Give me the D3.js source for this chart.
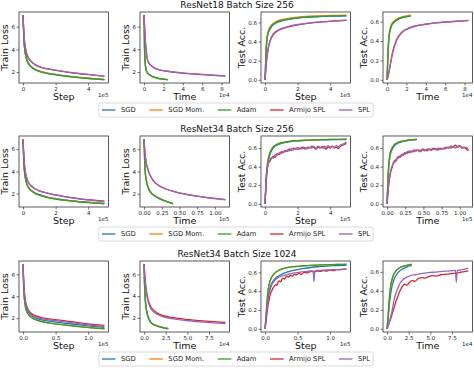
<!DOCTYPE html>
<html>
<head>
<meta charset="utf-8">
<script src="https://cdn.jsdelivr.net/npm/d3@7"></script>
<style>
  body { margin: 0; background: #fff; }
  svg { display: block; font-family: "DejaVu Sans", sans-serif; }
</style>
</head>
<body>
<svg id="chart" width="474" height="368"></svg>
<script>
// ---- labels ----
const methods = ["SGD", "SGD Mom.", "Adam", "Armijo SPL", "SPL"];
const colors = ["#1f77b4", "#ff7f0e", "#2ca02c", "#d62728", "#9467bd"];
const rowTitles = ["ResNet18 Batch Size 256", "ResNet34 Batch Size 256", "ResNet34 Batch Size 1024"];

// ---- tick values ----
const stepTicksA = [0, 2, 4];            // x1e5
const timeTicksA = [0, 2, 4, 6, 8];      // x1e4
const timeTicksB = [0, 0.25, 0.5, 0.75, 1.0]; // x1e5
const stepTicksC = [0, 0.5, 1.0];        // x1e5
const timeTicksC = [0, 2.5, 5.0, 7.5];   // x1e4
const lossTicks = [2, 4, 6];
const accTicks = [0, 0.2, 0.4, 0.6];

// ---- x grids ----
const stepsA = [0, 0.05, 0.1, 0.2, 0.3, 0.5, 0.75, 1, 1.5, 2, 2.5, 3, 3.5, 4, 4.5, 5]; // x1e5
const r1TimeFast = [0, 0.05, 0.1, 0.2, 0.35, 0.5, 0.75, 1.0, 1.4, 1.9, 2.45]; // x1e4
const r1TimeSlow = [0, 0.1, 0.2, 0.35, 0.6, 1.0, 1.5, 2.4, 3.5, 4.5, 6.0, 7.2, 8.4];
const r2StepDense = [0, 0.05, 0.1, 0.15, 0.2, 0.3, 0.4, 0.5, 0.625, 0.75, 0.875, 1.0,
  1.125, 1.25, 1.375, 1.5, 1.625, 1.75, 1.875, 2.0, 2.125, 2.25, 2.375, 2.5, 2.625, 2.75, 2.875, 3.0,
  3.125, 3.25, 3.375, 3.5, 3.625, 3.75, 3.875, 4.0, 4.125, 4.25, 4.375, 4.5, 4.625, 4.75, 4.875, 5.0];
const r2TimeFast = [0, 0.01, 0.02, 0.04, 0.07, 0.1, 0.14, 0.2, 0.27, 0.34, 0.41]; // x1e5
const r2TimeSlow = [0, 0.01, 0.025, 0.05, 0.08, 0.13, 0.2, 0.3, 0.45, 0.6, 0.75, 0.9, 1.03, 1.15];
const r2TimeDense = [0, 0.01, 0.02, 0.03, 0.04, 0.05, 0.065, 0.08, 0.095, 0.11, 0.125, 0.14,
  0.16, 0.18, 0.2, 0.22, 0.24, 0.26, 0.28, 0.3, 0.325, 0.35, 0.375, 0.4,
  0.43, 0.46, 0.49, 0.52, 0.55, 0.58, 0.61, 0.64, 0.67, 0.7, 0.73, 0.76, 0.79, 0.82,
  0.85, 0.88, 0.91, 0.94, 0.97, 1.0, 1.03, 1.06, 1.09, 1.12];
const stepsC = [0, 0.01, 0.02, 0.04, 0.06, 0.1, 0.15, 0.2, 0.3, 0.4, 0.5, 0.6, 0.7, 0.8, 0.9, 1.0, 1.1, 1.25]; // x1e5
const r3StepArmijo = [0, 0.01, 0.02, 0.03, 0.04, 0.05, 0.06, 0.07, 0.08, 0.09, 0.1,
  0.12, 0.14, 0.16, 0.18, 0.2, 0.22, 0.24, 0.26, 0.28, 0.3, 0.33, 0.36, 0.39, 0.42, 0.45, 0.48,
  0.52, 0.56, 0.6, 0.65, 0.7, 0.75, 0.8, 0.85, 0.9, 0.95, 1.0, 1.05, 1.1, 1.15, 1.2, 1.25];
const r3StepSpl = [0, 0.01, 0.02, 0.04, 0.06, 0.08, 0.1, 0.13, 0.16, 0.2, 0.25, 0.3, 0.35, 0.4,
  0.45, 0.5, 0.55, 0.6, 0.65, 0.7, 0.74, 0.75, 0.76, 0.77, 0.8, 0.85, 0.9, 0.95, 1.0, 1.05,
  1.1, 1.15, 1.2, 1.25];
const r3TimeFast = [0, 0.05, 0.1, 0.2, 0.3, 0.45, 0.7, 1.0, 1.3, 1.7, 2.2, 2.8]; // x1e4
const r3TimeSlow = [0, 0.1, 0.25, 0.5, 0.8, 1.25, 1.9, 2.8, 3.8, 4.8, 6.0, 7.2, 8.4, 9.4];
const r3TimeFastAcc = [0, 0.1, 0.2, 0.3, 0.45, 0.6, 0.8, 1.05, 1.35, 1.7, 2.1, 2.5, 2.85];
const r3TimeSpl = [0, 0.2, 0.4, 0.6, 0.8, 1.0, 1.25, 1.5, 1.8, 2.2, 2.7, 3.2, 3.8, 4.4, 5.0,
  5.6, 6.2, 6.8, 7.4, 7.9, 8.0, 8.1, 8.5, 9.0, 9.4];
const r3TimeArmijo = [0, 0.2, 0.4, 0.6, 0.8, 1.0, 1.2, 1.4, 1.6, 1.8, 2.0, 2.3, 2.6, 2.9, 3.2,
  3.6, 4.0, 4.4, 4.8, 5.2, 5.7, 6.2, 6.7, 7.2, 7.7, 8.2, 8.7, 9.1, 9.4];

// ---- ResNet18 bs 256 ----
const r1LossStep = [
  [7.0, 5.0, 4.1, 3.28, 2.88, 2.5, 2.25, 2.1, 1.92, 1.8, 1.7, 1.61, 1.54, 1.47, 1.41, 1.36],
  [7.0, 4.95, 4.05, 3.24, 2.85, 2.48, 2.23, 2.08, 1.9, 1.78, 1.68, 1.59, 1.52, 1.46, 1.4, 1.35],
  [7.0, 4.9, 4.0, 3.2, 2.82, 2.45, 2.2, 2.05, 1.88, 1.76, 1.66, 1.57, 1.5, 1.44, 1.38, 1.33],
  [7.0, 5.35, 4.55, 3.72, 3.32, 2.93, 2.64, 2.46, 2.28, 2.15, 2.04, 1.94, 1.86, 1.78, 1.71, 1.64],
  [7.0, 5.4, 4.6, 3.75, 3.35, 2.95, 2.66, 2.48, 2.3, 2.17, 2.06, 1.96, 1.88, 1.8, 1.72, 1.65]
];
const r1LossTime = [
  [7.0, 4.0, 3.05, 2.26, 1.96, 1.81, 1.66, 1.57, 1.47, 1.39, 1.34],
  [7.0, 3.95, 3.0, 2.23, 1.94, 1.8, 1.65, 1.56, 1.46, 1.38, 1.33],
  [7.0, 3.9, 2.95, 2.2, 1.92, 1.78, 1.64, 1.55, 1.45, 1.37, 1.32],
  [7.0, 5.15, 4.05, 3.07, 2.68, 2.39, 2.21, 2.07, 1.95, 1.87, 1.78, 1.71, 1.66],
  [7.0, 5.2, 4.1, 3.1, 2.7, 2.4, 2.22, 2.08, 1.96, 1.88, 1.79, 1.72, 1.67]
];
const r1AccStep = [
  [0, 0.24, 0.39, 0.49, 0.53, 0.575, 0.6, 0.614, 0.632, 0.644, 0.652, 0.657, 0.662, 0.665, 0.667, 0.669],
  [0, 0.26, 0.41, 0.51, 0.55, 0.59, 0.615, 0.628, 0.645, 0.655, 0.662, 0.667, 0.67, 0.672, 0.674, 0.675],
  [0, 0.25, 0.4, 0.5, 0.54, 0.58, 0.605, 0.618, 0.635, 0.647, 0.655, 0.66, 0.664, 0.667, 0.669, 0.671],
  [0, 0.11, 0.21, 0.33, 0.4, 0.47, 0.51, 0.53, 0.557, 0.575, 0.588, 0.598, 0.605, 0.611, 0.617, 0.622],
  [0, 0.12, 0.22, 0.34, 0.41, 0.48, 0.515, 0.535, 0.56, 0.578, 0.59, 0.6, 0.607, 0.613, 0.619, 0.624]
];
const r1AccTime = [
  [0, 0.14, 0.27, 0.44, 0.52, 0.565, 0.595, 0.615, 0.635, 0.648, 0.658],
  [0, 0.16, 0.29, 0.46, 0.54, 0.58, 0.61, 0.628, 0.645, 0.657, 0.666],
  [0, 0.15, 0.28, 0.45, 0.53, 0.57, 0.6, 0.62, 0.638, 0.65, 0.66],
  [0, 0.035, 0.085, 0.16, 0.29, 0.41, 0.485, 0.535, 0.565, 0.58, 0.595, 0.604, 0.61],
  [0, 0.04, 0.09, 0.17, 0.3, 0.42, 0.49, 0.54, 0.567, 0.582, 0.597, 0.605, 0.612]
];

// ---- ResNet34 bs 256 ----
const r2LossStep = [
  [6.9, 4.8, 3.9, 3.05, 2.66, 2.3, 2.05, 1.9, 1.69, 1.55, 1.44, 1.35, 1.28, 1.22, 1.17, 1.12],
  [6.9, 4.75, 3.85, 3.01, 2.63, 2.27, 2.02, 1.87, 1.66, 1.52, 1.42, 1.33, 1.26, 1.2, 1.15, 1.1],
  [6.9, 4.7, 3.8, 2.98, 2.6, 2.25, 2.0, 1.85, 1.64, 1.5, 1.4, 1.31, 1.24, 1.18, 1.13, 1.08],
  [6.9, 5.25, 4.4, 3.52, 3.08, 2.68, 2.41, 2.24, 2.03, 1.88, 1.75, 1.63, 1.53, 1.45, 1.38, 1.32],
  [6.9, 5.3, 4.45, 3.55, 3.1, 2.7, 2.42, 2.25, 2.03, 1.87, 1.73, 1.61, 1.51, 1.42, 1.35, 1.29]
];
const r2LossTime = [
  [6.9, 4.68, 3.78, 2.97, 2.4, 2.1, 1.89, 1.65, 1.44, 1.28, 1.14],
  [6.9, 4.64, 3.74, 2.93, 2.37, 2.07, 1.86, 1.62, 1.42, 1.26, 1.12],
  [6.9, 4.6, 3.7, 2.9, 2.35, 2.05, 1.84, 1.6, 1.4, 1.24, 1.1],
  [6.9, 5.85, 4.95, 4.25, 3.72, 3.18, 2.77, 2.45, 2.15, 1.95, 1.79, 1.66, 1.56, 1.48],
  [6.9, 5.9, 5.0, 4.3, 3.75, 3.2, 2.78, 2.45, 2.15, 1.95, 1.78, 1.64, 1.54, 1.46]
];
const r2AccStep = [
  [0, 0.2, 0.33, 0.46, 0.53, 0.6, 0.633, 0.65, 0.668, 0.677, 0.682, 0.686, 0.688, 0.69, 0.691, 0.692],
  [0, 0.23, 0.36, 0.49, 0.555, 0.612, 0.642, 0.657, 0.673, 0.681, 0.686, 0.689, 0.691, 0.693, 0.694, 0.695],
  [0, 0.22, 0.35, 0.48, 0.55, 0.61, 0.64, 0.655, 0.672, 0.68, 0.685, 0.688, 0.69, 0.692, 0.693, 0.694],
  [0, 0.18, 0.31, 0.39, 0.43, 0.46, 0.49, 0.51, 0.5, 0.54, 0.53, 0.56,
   0.55, 0.575, 0.565, 0.59, 0.575, 0.6, 0.59, 0.605, 0.59, 0.61, 0.6, 0.59, 0.61, 0.6, 0.62, 0.605,
   0.59, 0.61, 0.6, 0.615, 0.6, 0.59, 0.61, 0.6, 0.62, 0.6, 0.61, 0.595, 0.62, 0.63, 0.64, 0.65],
  [0, 0.2, 0.33, 0.4, 0.44, 0.47, 0.5, 0.49, 0.53, 0.52, 0.55, 0.54,
   0.57, 0.56, 0.58, 0.57, 0.59, 0.58, 0.6, 0.585, 0.6, 0.59, 0.61, 0.6, 0.595, 0.61, 0.6, 0.615,
   0.6, 0.62, 0.61, 0.6, 0.62, 0.61, 0.625, 0.61, 0.62, 0.605, 0.625, 0.615, 0.63, 0.64, 0.65, 0.665]
];
const r2AccTime = [
  [0, 0.2, 0.36, 0.51, 0.585, 0.625, 0.648, 0.667, 0.678, 0.685, 0.69],
  [0, 0.23, 0.39, 0.54, 0.605, 0.64, 0.658, 0.674, 0.684, 0.69, 0.695],
  [0, 0.22, 0.38, 0.53, 0.6, 0.635, 0.655, 0.672, 0.682, 0.688, 0.693],
  [0, 0.09, 0.18, 0.25, 0.3, 0.34, 0.38, 0.42, 0.44, 0.47, 0.46, 0.49,
   0.51, 0.5, 0.53, 0.52, 0.55, 0.54, 0.56, 0.55, 0.57, 0.56, 0.58, 0.57,
   0.58, 0.57, 0.59, 0.58, 0.57, 0.59, 0.585, 0.6, 0.59, 0.58, 0.6, 0.59, 0.6, 0.61, 0.6, 0.62,
   0.61, 0.63, 0.61, 0.62, 0.6, 0.61, 0.59, 0.57],
  [0, 0.1, 0.2, 0.27, 0.32, 0.36, 0.4, 0.43, 0.46, 0.45, 0.48, 0.5,
   0.49, 0.52, 0.51, 0.54, 0.53, 0.55, 0.54, 0.57, 0.55, 0.57, 0.56, 0.58,
   0.57, 0.56, 0.58, 0.57, 0.59, 0.58, 0.575, 0.59, 0.58, 0.6, 0.585, 0.6, 0.59, 0.6, 0.61, 0.6,
   0.615, 0.6, 0.62, 0.625, 0.61, 0.6, 0.61, 0.58]
];

// ---- ResNet34 bs 1024 ----
const r3LossStep = [
  [6.93, 4.9, 4.0, 3.15, 2.8, 2.4, 2.15, 2.0, 1.82, 1.72, 1.65, 1.57, 1.5, 1.43, 1.36, 1.29, 1.23, 1.16],
  [6.93, 4.65, 3.75, 2.93, 2.58, 2.22, 2.0, 1.86, 1.68, 1.57, 1.48, 1.41, 1.34, 1.27, 1.21, 1.15, 1.1, 1.04],
  [6.93, 4.6, 3.7, 2.9, 2.55, 2.2, 1.98, 1.84, 1.66, 1.55, 1.47, 1.4, 1.33, 1.26, 1.2, 1.14, 1.09, 1.03],
  [6.93, 5.3, 4.45, 3.5, 3.05, 2.6, 2.34, 2.2, 2.03, 1.93, 1.87, 1.79, 1.71, 1.63, 1.55, 1.48, 1.41, 1.34],
  [6.93, 5.2, 4.3, 3.35, 2.95, 2.5, 2.24, 2.1, 1.93, 1.84, 1.78, 1.7, 1.62, 1.54, 1.46, 1.39, 1.32, 1.25]
];
const r3LossTime = [
  [6.93, 5.25, 4.25, 3.15, 2.65, 2.15, 1.69, 1.46, 1.34, 1.23, 1.13, 1.04],
  [6.93, 5.22, 4.22, 3.12, 2.62, 2.12, 1.67, 1.44, 1.31, 1.2, 1.1, 1.01],
  [6.93, 5.2, 4.2, 3.1, 2.6, 2.1, 1.65, 1.42, 1.3, 1.19, 1.09, 1.0],
  [6.93, 5.8, 4.6, 3.55, 3.0, 2.6, 2.3, 2.1, 1.97, 1.87, 1.78, 1.7, 1.63, 1.58],
  [6.93, 5.6, 4.4, 3.4, 2.85, 2.47, 2.19, 1.99, 1.86, 1.76, 1.67, 1.59, 1.52, 1.47]
];
const r3AccStep = [
  [0, 0.07, 0.15, 0.3, 0.39, 0.48, 0.53, 0.56, 0.595, 0.615, 0.63, 0.642, 0.652, 0.66, 0.665, 0.669, 0.672, 0.675],
  [0, 0.09, 0.19, 0.37, 0.46, 0.545, 0.59, 0.615, 0.642, 0.656, 0.664, 0.67, 0.675, 0.678, 0.681, 0.683, 0.685, 0.687],
  [0, 0.1, 0.2, 0.38, 0.47, 0.55, 0.595, 0.62, 0.645, 0.658, 0.665, 0.671, 0.675, 0.678, 0.68, 0.682, 0.684, 0.686],
  [0, 0.05, 0.11, 0.17, 0.22, 0.27, 0.3, 0.34, 0.36, 0.39, 0.4,
   0.43, 0.45, 0.47, 0.46, 0.5, 0.51, 0.5, 0.53, 0.54, 0.53,
   0.56, 0.55, 0.57, 0.56, 0.58, 0.575, 0.59, 0.58, 0.6,
   0.595, 0.61, 0.605, 0.615, 0.61, 0.62, 0.615, 0.625, 0.62, 0.63, 0.628, 0.635, 0.638],
  [0, 0.08, 0.16, 0.28, 0.36, 0.42, 0.46, 0.5, 0.525, 0.545,
   0.56, 0.57, 0.58, 0.588, 0.594, 0.6, 0.604, 0.608, 0.612, 0.615,
   0.617, 0.5, 0.58, 0.618, 0.62, 0.622, 0.624, 0.626, 0.627, 0.629, 0.63, 0.632, 0.633, 0.635]
];
const r3AccTime = [
  [0, 0.08, 0.18, 0.28, 0.39, 0.46, 0.52, 0.565, 0.6, 0.625, 0.645, 0.66, 0.67],
  [0, 0.11, 0.24, 0.35, 0.46, 0.525, 0.575, 0.612, 0.636, 0.654, 0.665, 0.674, 0.681],
  [0, 0.12, 0.25, 0.36, 0.47, 0.53, 0.58, 0.615, 0.638, 0.655, 0.666, 0.674, 0.68],
  [0, 0.05, 0.1, 0.16, 0.22, 0.28, 0.33, 0.38, 0.42, 0.45, 0.47, 0.46, 0.49, 0.51, 0.5,
   0.53, 0.54, 0.535, 0.55, 0.56, 0.555, 0.57, 0.575, 0.58, 0.585, 0.59, 0.6, 0.605, 0.61],
  [0, 0.05, 0.12, 0.2, 0.3, 0.37, 0.43, 0.48, 0.515, 0.54, 0.56, 0.57, 0.58, 0.588, 0.594,
   0.598, 0.603, 0.608, 0.612, 0.615, 0.49, 0.612, 0.62, 0.63, 0.64]
];

// ---- panel list ----
const fmtInt = d3.format("d"), fmt1 = d3.format(".1f"), fmt2 = d3.format(".2f");
const panels = [
  { row: 0, col: 0, xs: [stepsA, stepsA, stepsA, stepsA, stepsA], ys: r1LossStep,
    xTicks: stepTicksA, xFmt: fmtInt, offset: "1e5", xLabel: "Step", yTicks: lossTicks, yFmt: fmtInt, yLabel: "Train Loss" },
  { row: 0, col: 1, xs: [r1TimeFast, r1TimeFast, r1TimeFast, r1TimeSlow, r1TimeSlow], ys: r1LossTime,
    xTicks: timeTicksA, xFmt: fmtInt, offset: "1e4", xLabel: "Time", yTicks: lossTicks, yFmt: fmtInt, yLabel: "Train Loss" },
  { row: 0, col: 2, xs: [stepsA, stepsA, stepsA, stepsA, stepsA], ys: r1AccStep,
    xTicks: stepTicksA, xFmt: fmtInt, offset: "1e5", xLabel: "Step", yTicks: accTicks, yFmt: fmt1, yLabel: "Test Acc." },
  { row: 0, col: 3, xs: [r1TimeFast, r1TimeFast, r1TimeFast, r1TimeSlow, r1TimeSlow], ys: r1AccTime,
    xTicks: timeTicksA, xFmt: fmtInt, offset: "1e4", xLabel: "Time", yTicks: accTicks, yFmt: fmt1, yLabel: "Test Acc." },

  { row: 1, col: 0, xs: [stepsA, stepsA, stepsA, stepsA, stepsA], ys: r2LossStep,
    xTicks: stepTicksA, xFmt: fmtInt, offset: "1e5", xLabel: "Step", yTicks: lossTicks, yFmt: fmtInt, yLabel: "Train Loss" },
  { row: 1, col: 1, xs: [r2TimeFast, r2TimeFast, r2TimeFast, r2TimeSlow, r2TimeSlow], ys: r2LossTime,
    xTicks: timeTicksB, xFmt: fmt2, offset: "1e5", xLabel: "Time", yTicks: lossTicks, yFmt: fmtInt, yLabel: "Train Loss" },
  { row: 1, col: 2, xs: [stepsA, stepsA, stepsA, r2StepDense, r2StepDense], ys: r2AccStep,
    xTicks: stepTicksA, xFmt: fmtInt, offset: "1e5", xLabel: "Step", yTicks: accTicks, yFmt: fmt1, yLabel: "Test Acc." },
  { row: 1, col: 3, xs: [r2TimeFast, r2TimeFast, r2TimeFast, r2TimeDense, r2TimeDense], ys: r2AccTime,
    xTicks: timeTicksB, xFmt: fmt2, offset: "1e5", xLabel: "Time", yTicks: accTicks, yFmt: fmt1, yLabel: "Test Acc." },

  { row: 2, col: 0, xs: [stepsC, stepsC, stepsC, stepsC, stepsC], ys: r3LossStep,
    xTicks: stepTicksC, xFmt: fmt1, offset: "1e5", xLabel: "Step", yTicks: lossTicks, yFmt: fmtInt, yLabel: "Train Loss" },
  { row: 2, col: 1, xs: [r3TimeFast, r3TimeFast, r3TimeFast, r3TimeSlow, r3TimeSlow], ys: r3LossTime,
    xTicks: timeTicksC, xFmt: fmt1, offset: "1e4", xLabel: "Time", yTicks: lossTicks, yFmt: fmtInt, yLabel: "Train Loss" },
  { row: 2, col: 2, xs: [stepsC, stepsC, stepsC, r3StepArmijo, r3StepSpl], ys: r3AccStep,
    xTicks: stepTicksC, xFmt: fmt1, offset: "1e5", xLabel: "Step", yTicks: accTicks, yFmt: fmt1, yLabel: "Test Acc." },
  { row: 2, col: 3, xs: [r3TimeFastAcc, r3TimeFastAcc, r3TimeFastAcc, r3TimeArmijo, r3TimeSpl], ys: r3AccTime,
    xTicks: timeTicksC, xFmt: fmt1, offset: "1e4", xLabel: "Time", yTicks: accTicks, yFmt: fmt1, yLabel: "Test Acc." }
];

// ---- layout ----
const svg = d3.select("#chart");
const lefts = [19, 140, 261, 383];
const tops = [12, 136, 261];
const W = 89.5, H = 71;

function drawPanel(p) {
  const g = svg.append("g").attr("transform", `translate(${lefts[p.col]},${tops[p.row]})`);

  // matplotlib style 5% margins
  const [xmin, xmax] = d3.extent(p.xs.flat());
  const [ymin, ymax] = d3.extent(p.ys.flat());
  const mx = (xmax - xmin) * 0.05, my = (ymax - ymin) * 0.05;
  const x = d3.scaleLinear().domain([xmin - mx, xmax + mx]).range([0, W]);
  const y = d3.scaleLinear().domain([ymin - my, ymax + my]).range([H, 0]);

  const line = d3.line()
    .x(d => x(d[0]))
    .y(d => y(d[1]))
    .curve(d3.curveMonotoneX);

  p.ys.forEach((vals, i) => {
    g.append("path")
      .datum(vals.map((v, j) => [p.xs[i][j], v]))
      .attr("d", line)
      .attr("fill", "none")
      .attr("stroke", colors[i])
      .attr("stroke-width", 1.3)
      .attr("stroke-linejoin", "round");
  });

  // axes
  const xAxis = g.append("g")
    .attr("transform", `translate(0,${H})`)
    .call(d3.axisBottom(x).tickValues(p.xTicks).tickFormat(p.xFmt).tickSize(2.5).tickPadding(1.5));
  const yAxis = g.append("g")
    .call(d3.axisLeft(y).tickValues(p.yTicks).tickFormat(p.yFmt).tickSize(2.5).tickPadding(1.5));
  [xAxis, yAxis].forEach(a => {
    a.select(".domain").remove();
    a.selectAll("line").attr("stroke", "#333").attr("stroke-width", 0.7);
    a.selectAll("text")
      .attr("font-family", "DejaVu Sans")
      .style("font-size", "5.5px")
      .attr("fill", "#222");
  });

  // frame
  g.append("rect")
    .attr("width", W)
    .attr("height", H)
    .attr("fill", "none")
    .attr("stroke", "#333")
    .attr("stroke-width", 0.8);

  // offset text
  g.append("text")
    .attr("x", W)
    .attr("y", H + 14)
    .attr("text-anchor", "end")
    .style("font-size", "5.5px")
    .attr("fill", "#222")
    .text(p.offset);

  // axis labels
  g.append("text")
    .attr("x", W / 2)
    .attr("y", H + 17)
    .attr("text-anchor", "middle")
    .style("font-size", "9.5px")
    .attr("fill", "#111")
    .text(p.xLabel);

  const bb = yAxis.node().getBBox();
  g.append("text")
    .attr("transform", `translate(${bb.x - 3.5},${H / 2}) rotate(-90)`)
    .attr("text-anchor", "middle")
    .style("font-size", "9.5px")
    .attr("fill", "#111")
    .text(p.yLabel);
}

panels.forEach(drawPanel);

// titles
rowTitles.forEach((t, r) => {
  svg.append("text")
    .attr("x", 237)
    .attr("y", tops[r] - 4)
    .attr("text-anchor", "middle")
    .style("font-size", "9px")
    .attr("fill", "#111")
    .text(t);
});

// legends
function drawLegend(r) {
  const fs = 6.8;
  const handle = 2 * fs, textPad = 0.8 * fs, colSpace = 2 * fs, pad = 0.45 * fs;
  const top = tops[r] + H + 20, h = 14;
  const lg = svg.append("g");
  const box = lg.append("rect");
  let cx = pad;
  methods.forEach((m, i) => {
    lg.append("line")
      .attr("x1", cx).attr("x2", cx + handle)
      .attr("y1", h / 2).attr("y2", h / 2)
      .attr("stroke", colors[i])
      .attr("stroke-width", 1.3);
    const t = lg.append("text")
      .attr("x", cx + handle + textPad)
      .attr("y", h / 2 + 2.4)
      .style("font-size", fs + "px")
      .attr("fill", "#222")
      .text(m);
    cx += handle + textPad + t.node().getComputedTextLength() + colSpace;
  });
  const w = cx - colSpace + pad;
  box.attr("width", w).attr("height", h)
    .attr("rx", 2)
    .attr("fill", "#fff")
    .attr("fill-opacity", 0.8)
    .attr("stroke", "#d0d0d0")
    .attr("stroke-width", 0.8);
  lg.attr("transform", `translate(${236 - w / 2},${top})`);
}
[0, 1, 2].forEach(drawLegend);
</script>
</body>
</html>
